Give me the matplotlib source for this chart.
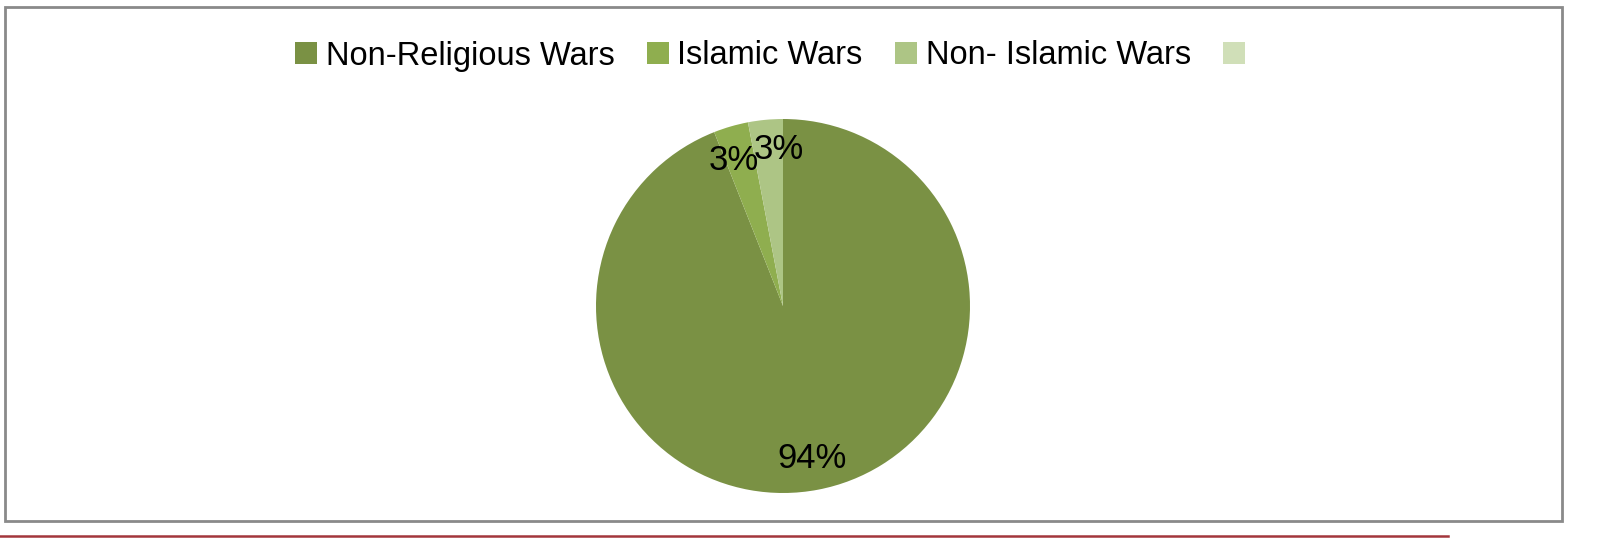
import matplotlib.pyplot as plt
from matplotlib.patches import Patch, Rectangle
from matplotlib.lines import Line2D

# data
labels = ['Non-Religious Wars', 'Islamic Wars', 'Non- Islamic Wars', '']
values = [94, 3, 3, 0]
colors = ['#7a9144', '#8fae4f', '#adc585', '#d0dfb8']

plt.rcParams['font.family'] = ['Liberation Sans', 'DejaVu Sans']

fig = plt.figure(figsize=(16, 5.55), dpi=100)
W, H = 1600, 555

# pie axes: centre (783, 306) px, radius 187 px
cx, cy, r = 783, 306, 187
ax = fig.add_axes([(cx - r) / W, (H - cy - r) / H, 2 * r / W, 2 * r / H])
wedges, texts, autotexts = ax.pie(values, colors=colors, startangle=90, counterclock=False,
                                  autopct=lambda p: '%d%%' % round(p) if p > 0 else '',
                                  pctdistance=0.83, radius=1,
                                  textprops={'fontsize': 25, 'color': 'black'})
# nudge the two small labels apart a little, like the original
px = 1.0 / r
x, y = autotexts[1].get_position()
autotexts[1].set_position((x - 6 * px, y - 4 * px))
x, y = autotexts[2].get_position()
autotexts[2].set_position((x + 10 * px, y + 2 * px))

ax.set_xlim(-1, 1)
ax.set_ylim(-1, 1)
ax.set_aspect('equal')
ax.axis('off')

handles = [Patch(facecolor=c, edgecolor='none') for c in colors]
fig.legend(handles, labels, loc='center', bbox_to_anchor=(0.484, 1 - 56 / H), ncol=4,
           frameon=False, fontsize=23.5, handlelength=0.68, handleheight=0.68,
           handletextpad=0.25, columnspacing=1.0)

# chart frame
fig.patches.append(Rectangle((5 / W, 1 - 521 / H), 1557 / W, 514 / H, transform=fig.transFigure,
                             fill=False, edgecolor='#8a8a8a', linewidth=2))
# red rule below
fig.lines.append(Line2D([0, 1448 / W], [1 - 536 / H] * 2, transform=fig.transFigure,
                        color='#a3363c', linewidth=1.8))

fig.savefig('out.png', dpi=100)
